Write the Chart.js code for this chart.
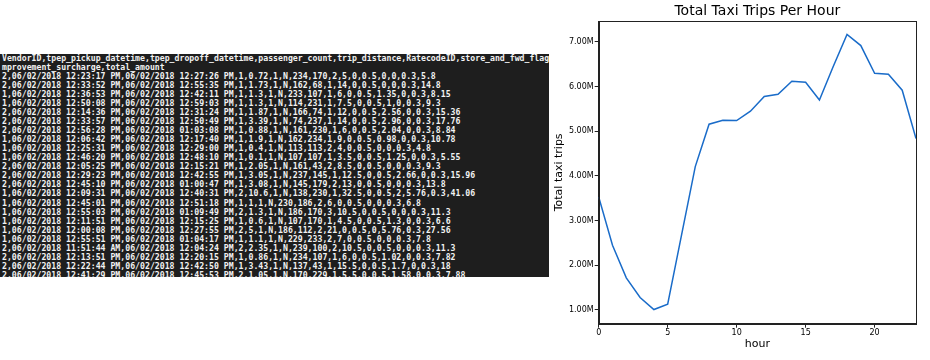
<!DOCTYPE html>
<html>
<head>
<meta charset="utf-8">
<script src="https://cdn.jsdelivr.net/npm/chart.js@4/dist/chart.umd.min.js"></script>
<style>
  html, body { margin: 0; padding: 0; background: #ffffff; }
  body { width: 930px; height: 360px; position: relative; overflow: hidden; }
  #term {
    position: absolute; left: 0; top: 54px; width: 549px; height: 223px;
    background: #1e1e1e; overflow: hidden;
  }
  #term pre {
    margin: -0.5px 0 0 2px; padding: 0;
    font-family: "DejaVu Sans Mono", monospace; font-weight: bold;
    font-size: 8.2px; line-height: 9.07px; color: #f2f2f2; white-space: pre;
  }
  #chartWrap { position: absolute; left: 540px; top: 0; width: 390px; height: 360px; }
</style>
</head>
<body>
<div id="term"><pre id="termText"></pre></div>
<div id="chartWrap"><canvas id="c" width="390" height="360"></canvas></div>
<script>
// ---- data ----
const csvLines = [
  "VendorID,tpep_pickup_datetime,tpep_dropoff_datetime,passenger_count,trip_distance,RatecodeID,store_and_fwd_flag,PULocationID",
  "mprovement_surcharge,total_amount",
  "2,06/02/2018 12:23:17 PM,06/02/2018 12:27:26 PM,1,0.72,1,N,234,170,2,5,0,0.5,0,0,0.3,5.8",
  "2,06/02/2018 12:33:52 PM,06/02/2018 12:55:35 PM,1,1.73,1,N,162,68,1,14,0,0.5,0,0,0.3,14.8",
  "1,06/02/2018 12:36:53 PM,06/02/2018 12:42:11 PM,1,1.3,1,N,233,107,1,6,0,0.5,1.35,0,0.3,8.15",
  "1,06/02/2018 12:50:08 PM,06/02/2018 12:59:03 PM,1,1.3,1,N,114,231,1,7.5,0,0.5,1,0,0.3,9.3",
  "2,06/02/2018 12:14:36 PM,06/02/2018 12:31:24 PM,1,1.87,1,N,166,74,1,12,0,0.5,2.56,0,0.3,15.36",
  "2,06/02/2018 12:33:57 PM,06/02/2018 12:50:49 PM,1,3.39,1,N,74,237,1,14,0,0.5,2.96,0,0.3,17.76",
  "2,06/02/2018 12:56:28 PM,06/02/2018 01:03:08 PM,1,0.88,1,N,161,230,1,6,0,0.5,2.04,0,0.3,8.84",
  "1,06/02/2018 12:06:42 PM,06/02/2018 12:17:40 PM,1,1.9,1,N,162,234,1,9,0,0.5,0.98,0,0.3,10.78",
  "1,06/02/2018 12:25:31 PM,06/02/2018 12:29:00 PM,1,0.4,1,N,113,113,2,4,0,0.5,0,0,0.3,4.8",
  "1,06/02/2018 12:46:20 PM,06/02/2018 12:48:10 PM,1,0.1,1,N,107,107,1,3.5,0,0.5,1.25,0,0.3,5.55",
  "2,06/02/2018 12:05:25 PM,06/02/2018 12:15:21 PM,1,2.05,1,N,161,43,2,8.5,0,0.5,0,0,0.3,9.3",
  "2,06/02/2018 12:29:23 PM,06/02/2018 12:42:55 PM,1,3.05,1,N,237,145,1,12.5,0,0.5,2.66,0,0.3,15.96",
  "2,06/02/2018 12:45:10 PM,06/02/2018 01:00:47 PM,1,3.08,1,N,145,179,2,13,0,0.5,0,0,0.3,13.8",
  "1,06/02/2018 12:09:31 PM,06/02/2018 12:40:31 PM,2,10.6,1,N,138,230,1,32.5,0,0.5,2,5.76,0.3,41.06",
  "1,06/02/2018 12:45:01 PM,06/02/2018 12:51:18 PM,1,1,1,N,230,186,2,6,0,0.5,0,0,0.3,6.8",
  "1,06/02/2018 12:55:03 PM,06/02/2018 01:09:49 PM,2,1.3,1,N,186,170,3,10.5,0,0.5,0,0,0.3,11.3",
  "1,06/02/2018 12:11:51 PM,06/02/2018 12:15:25 PM,1,0.6,1,N,107,170,1,4.5,0,0.5,1.3,0,0.3,6.6",
  "1,06/02/2018 12:00:08 PM,06/02/2018 12:27:55 PM,2,5,1,N,186,112,2,21,0,0.5,0,5.76,0.3,27.56",
  "1,06/02/2018 12:55:51 PM,06/02/2018 01:04:17 PM,1,1.1,1,N,229,233,2,7,0,0.5,0,0,0.3,7.8",
  "2,06/02/2018 11:51:44 AM,06/02/2018 12:04:24 PM,2,2.35,1,N,239,100,2,10.5,0,0.5,0,0,0.3,11.3",
  "2,06/02/2018 12:13:51 PM,06/02/2018 12:20:15 PM,1,0.86,1,N,234,107,1,6,0,0.5,1.02,0,0.3,7.82",
  "2,06/02/2018 12:22:44 PM,06/02/2018 12:42:50 PM,1,3.43,1,N,137,43,1,15.5,0,0.5,1.7,0,0.3,18",
  "2,06/02/2018 12:41:29 PM,06/02/2018 12:45:53 PM,2,1.05,1,N,170,229,1,5.5,0,0.5,1.58,0,0.3,7.88"
];

const hours = [0,1,2,3,4,5,6,7,8,9,10,11,12,13,14,15,16,17,18,19,20,21,22,23];
const trips = [3530000, 2450000, 1720000, 1280000, 1010000, 1130000, 2670000, 4210000,
               5160000, 5250000, 5240000, 5450000, 5780000, 5830000, 6120000, 6100000,
               5700000, 6450000, 7170000, 6920000, 6300000, 6280000, 5920000, 4840000];
const yTickValues = [1000000, 2000000, 3000000, 4000000, 5000000, 6000000, 7000000];
const xTickValues = [0, 5, 10, 15, 20];

document.getElementById('termText').textContent = csvLines.join('\n');

const frame = {
  id: 'frame',
  afterDatasetsDraw(chart) {
    const a = chart.chartArea, ctx = chart.ctx;
    ctx.save();
    ctx.strokeStyle = '#222';
    ctx.lineWidth = 1;
    ctx.strokeRect(Math.round(a.left) + 0.5, Math.round(a.top) + 0.5,
                   Math.round(a.right - a.left) - 1 + 1, Math.round(a.bottom - a.top));
    ctx.restore();
  }
};

const tickFont = { family: 'DejaVu Sans', size: 8 };

new Chart(document.getElementById('c'), {
  type: 'line',
  data: {
    datasets: [{
      data: hours.map((h, i) => ({ x: h, y: trips[i] })),
      borderColor: '#1a6cc9',
      borderWidth: 1.5,
      pointRadius: 0,
      tension: 0,
      fill: false
    }]
  },
  plugins: [frame],
  options: {
    responsive: false,
    animation: false,
    devicePixelRatio: 1,
    layout: { padding: { left: 0, right: 14, top: 0, bottom: 0 } },
    plugins: {
      legend: { display: false },
      tooltip: { enabled: false },
      title: {
        display: true,
        text: 'Total Taxi Trips Per Hour',
        fullSize: false,
        color: '#000',
        font: { family: 'DejaVu Sans', size: 14, weight: 'normal' },
        padding: { top: 2.6, bottom: 1.6 }
      }
    },
    scales: {
      x: {
        type: 'linear',
        min: 0, max: 23,
        afterBuildTicks: s => { s.ticks = xTickValues.map(v => ({ value: v })); },
        afterFit: s => { s.height = 36.3; },
        grid: { display: true, drawOnChartArea: false, drawTicks: true, tickLength: 4, color: '#222' },
        border: { display: true, color: '#222' },
        ticks: { color: '#000', font: tickFont, padding: 0, maxRotation: 0, autoSkip: false,
                 callback: v => String(v) },
        title: { display: true, text: 'hour', color: '#000',
                 font: { family: 'DejaVu Sans', size: 11 }, padding: { top: 0, bottom: 9.4 } }
      },
      y: {
        type: 'linear',
        min: 693000, max: 7470000,
        afterBuildTicks: s => { s.ticks = yTickValues.map(v => ({ value: v })); },
        afterFit: s => { s.width = 58.7; },
        grid: { display: true, drawOnChartArea: false, drawTicks: true, tickLength: 4, color: '#222' },
        border: { display: true, color: '#222' },
        ticks: { color: '#000', font: tickFont, padding: 1, autoSkip: false,
                 callback: v => (v / 1000000).toFixed(2) + 'M' },
        title: { display: true, text: 'Total taxi trips', color: '#000',
                 font: { family: 'DejaVu Sans', size: 11 }, padding: { top: 12.4, bottom: 0 } }
      }
    }
  }
});
</script>
</body>
</html>
